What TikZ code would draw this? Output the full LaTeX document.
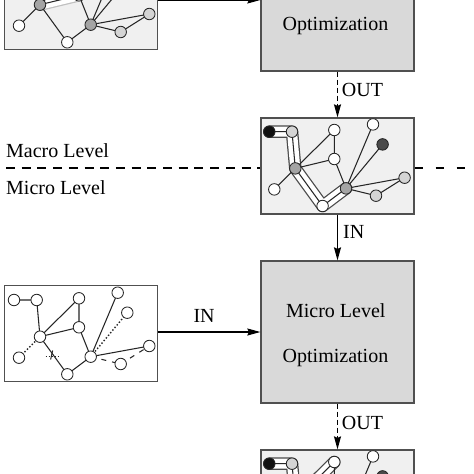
\documentclass[tikz,border=0pt]{standalone}
\usepackage{fontspec}
\setmainfont{Liberation Serif}
\usetikzlibrary{arrows.meta,calc}
\definecolor{cW}{HTML}{FFFFFF}
\definecolor{cL}{HTML}{D4D4D4}
\definecolor{cG}{HTML}{A4A4A4}
\definecolor{cD}{HTML}{4A4A4A}
\definecolor{cB}{HTML}{101010}
\definecolor{boxbg}{HTML}{F0F0F0}
\definecolor{optbg}{HTML}{D9D9D9}
\definecolor{frame}{HTML}{505050}
\newcommand\netcoords[2]{%
 \begin{scope}[shift={#2}]
 \coordinate (#1-1) at (14,300);
 \coordinate (#1-2) at (36.7,300);
 \coordinate (#1-3) at (79,298.3);
 \coordinate (#1-4) at (117.7,292.7);
 \coordinate (#1-5) at (127.3,312.7);
 \coordinate (#1-6) at (79,327.3);
 \coordinate (#1-7) at (40,336.7);
 \coordinate (#1-8) at (19,357.7);
 \coordinate (#1-9) at (90.7,356.7);
 \coordinate (#1-10) at (149.3,346);
 \coordinate (#1-11) at (120.7,364);
 \coordinate (#1-12) at (67.3,374.3);
 \end{scope}}
\newcommand\netall[1]{\draw[edge] (#1-1)--(#1-2) (#1-2)--(#1-7) (#1-7)--(#1-3) (#1-3)--(#1-6) (#1-7)--(#1-6) (#1-6)--(#1-9) (#1-9)--(#1-4) (#1-9)--(#1-5) (#1-9)--(#1-10) (#1-9)--(#1-11) (#1-11)--(#1-10) (#1-7)--(#1-8) (#1-7)--(#1-12) (#1-12)--(#1-9);}
\newcommand\netnodes[2]{\foreach \c [count=\i] in {#2} {\node[netnode, fill=\c] (#1-n\i) at (#1-\i) {};}}
\begin{document}
\begin{tikzpicture}[x=1pt,y=-1pt,
  edge/.style={draw=black!85, line width=1.05},
  netnode/.style={circle, draw=black!85, line width=0.85, minimum size=11.5, inner sep=0},
  netbox/.style={draw=frame, line width=1.3, minimum width=153, minimum height=96, inner sep=0},
  optbox/.style={draw=frame, line width=1.3, fill=optbg, minimum width=153, minimum height=142, inner sep=0},
  lbl/.style={inner sep=0, font=\fontsize{20}{24}\selectfont},
  arr/.style={-{Stealth[length=13,width=7,inset=1.5]}, line width=1.1, draw=black},
  dasharr/.style={arr, dash pattern=on 5pt off 3pt},
  corrout/.style={line width=12.5, draw=cD, line cap=round, line join=round},
  corrin/.style={line width=10, draw=white, line cap=round, line join=round},
  sepline/.style={line width=1.9, draw=black},
]
\fill[white] (0,0) rectangle (474,474);
\useasboundingbox (0,0) rectangle (474,474);

% macro / micro separator
\coordinate (sepL) at (6,168);
\coordinate (sepR) at (467,168);

% ---------- top-left network (cut) ----------
\node[netbox, fill=boxbg] (tlbox) at (81.3,1.7) {};
\netcoords{t}{(0,-332)}
\draw[line width=12.5, draw=cD!35, line cap=round] (t-6)--(t-7);
\draw[line width=10, draw=white, line cap=round] (t-6)--(t-7);
\netall{t}
\netnodes{t}{cW,cW,cW,cW,cW,cW,cG,cW,cG,cL,cL,cW}

% ---------- top optimization box (cut) ----------
\node[optbox] (opt1) at (337.5,0) {};
\node[lbl, anchor=base] (opt1t) at (335.5,30.5) {Optimization};

% ---------- macro network ----------
\node[netbox, fill=boxbg] (macbox) at (337.5,166) {};
\draw[sepline, dash pattern=on 9pt off 6.7pt] (sepL) -- (macbox.west |- sepL);
\draw[sepline, dash pattern=on 8pt off 13pt] (macbox.east |- sepR) -- (sepR);
\netcoords{m}{(255.3,-168.3)}
\draw[corrout] (m-1)--(m-2)--(m-7)--(m-12)--(m-9);
\draw[corrin] (m-1)--(m-2)--(m-7)--(m-12)--(m-9);
\netall{m}
\netnodes{m}{cB,cL,cW,cW,cD,cW,cG,cW,cG,cL,cL,cW}

\node[lbl, anchor=base west] (maclbl) at (6,157.3) {Macro Level};
\node[lbl, anchor=base west] (miclbl) at (6,194) {Micro Level};

% ---------- micro input network ----------
\node[netbox, fill=white] (micbox) at (81.3,333.7) {};
\netcoords{u}{(0,0)}
\draw[edge] (u-1)--(u-2) (u-2)--(u-7) (u-7)--(u-3) (u-3)--(u-6) (u-7)--(u-6) (u-6)--(u-9) (u-9)--(u-4) (u-9)--(u-10) (u-9)--(u-12) (u-7)--(u-12);
\draw[edge, line width=1.4, dotted] (u-7)--(u-8) (u-9)--(u-5);
\draw[edge, dash pattern=on 5pt off 6pt] (u-9)--(u-11) (u-11)--(u-10);
\path (u-7) -- (u-12) coordinate[pos=0.5] (ux);
\draw[edge] ($(ux)+(-1,-5)$) -- ($(ux)+(-3,4)$);
\draw[edge, dotted] ($(ux)+(-8,1)$) -- ($(ux)+(6,1)$);
\netnodes{u}{cW,cW,cW,cW,cW,cW,cW,cW,cW,cW,cW,cW}

% ---------- micro optimization box ----------
\node[optbox] (mopt) at (337.5,332) {};
\node[lbl, anchor=base] (mopt1) at (335.8,317) {Micro Level};
\node[lbl, anchor=base] (mopt2) at (335.5,362.5) {Optimization};

% ---------- bottom network (cut) ----------
\node[netbox, fill=boxbg] (botbox) at (337.5,498) {};
\netcoords{b}{(255.3,163.7)}
\draw[corrout] (b-1)--(b-2)--(b-7)--(b-3);
\draw[corrin] (b-1)--(b-2)--(b-7)--(b-3);
\netall{b}
\netnodes{b}{cB,cL,cW,cW,cD,cW,cG,cW,cG,cL,cL,cW}

% ---------- connectors ----------
\draw[arr] (tlbox.east |- opt1.west) -- (opt1.west);
\draw[dasharr] (opt1.south) -- (macbox.north);
\node[lbl, anchor=base west] (out1) at (341.7,96.7) {OUT};
\draw[arr] (macbox.south) -- (mopt.north);
\node[lbl, anchor=base west] (in1) at (343,238.5) {IN};
\draw[arr] (micbox.east |- mopt.west) -- (mopt.west);
\node[lbl, anchor=base west] (in2) at (193.3,322.7) {IN};
\draw[dasharr] (mopt.south) -- (botbox.north);
\node[lbl, anchor=base west] (out2) at (341.7,429) {OUT};
\end{tikzpicture}
\end{document}
